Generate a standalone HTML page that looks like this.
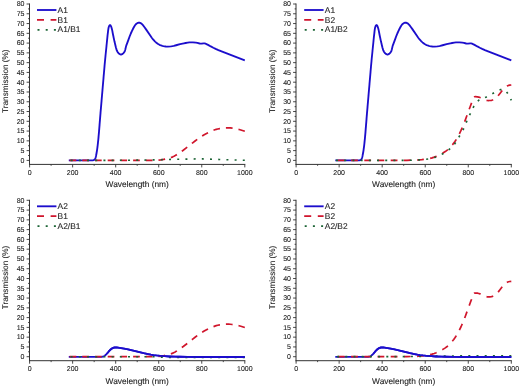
<!DOCTYPE html>
<html lang="en">
<head>
<meta charset="utf-8">
<title>Transmission spectra</title>
<style>
html,body{margin:0;padding:0;background:#fff;}
body{width:520px;height:386px;overflow:hidden;}
svg{display:block;text-rendering:geometricPrecision;}
text{stroke:#222;stroke-width:0.1px;font-family:"Liberation Sans",Arial,Helvetica,sans-serif;}
</style>
</head>
<body>
<svg width="520" height="386" viewBox="0 0 520 386">
<defs><filter id="soft" x="0" y="0" width="520" height="386" filterUnits="userSpaceOnUse"><feGaussianBlur stdDeviation="0.38"/></filter></defs>
<rect width="520" height="386" fill="#ffffff"/>
<g filter="url(#soft)">
<path d="M29.50 3.50 V164.90 M29.10 164.40 H245.30" stroke="#333" stroke-width="1" fill="none"/>
<path d="M29.60 160.40 h-3.0 M29.60 155.51 h-1.5 M29.60 150.62 h-3.0 M29.60 145.74 h-1.5 M29.60 140.85 h-3.0 M29.60 135.96 h-1.5 M29.60 131.07 h-3.0 M29.60 126.19 h-1.5 M29.60 121.30 h-3.0 M29.60 116.41 h-1.5 M29.60 111.53 h-3.0 M29.60 106.64 h-1.5 M29.60 101.75 h-3.0 M29.60 96.86 h-1.5 M29.60 91.98 h-3.0 M29.60 87.09 h-1.5 M29.60 82.20 h-3.0 M29.60 77.31 h-1.5 M29.60 72.42 h-3.0 M29.60 67.54 h-1.5 M29.60 62.65 h-3.0 M29.60 57.76 h-1.5 M29.60 52.88 h-3.0 M29.60 47.99 h-1.5 M29.60 43.10 h-3.0 M29.60 38.21 h-1.5 M29.60 33.33 h-3.0 M29.60 28.44 h-1.5 M29.60 23.55 h-3.0 M29.60 18.66 h-1.5 M29.60 13.78 h-3.0 M29.60 8.89 h-1.5 M29.60 4.00 h-3.0 M29.60 164.40 v3.0 M51.12 164.40 v1.4 M72.64 164.40 v3.0 M94.16 164.40 v1.4 M115.68 164.40 v3.0 M137.20 164.40 v1.4 M158.72 164.40 v3.0 M180.24 164.40 v1.4 M201.76 164.40 v3.0 M223.28 164.40 v1.4 M244.80 164.40 v3.0" stroke="#333" stroke-width="0.9" fill="none"/>
<g font-size="7" fill="#222">
<text x="24.50" y="162.70" text-anchor="end">0</text>
<text x="24.50" y="152.93" text-anchor="end">5</text>
<text x="24.50" y="143.15" text-anchor="end">10</text>
<text x="24.50" y="133.38" text-anchor="end">15</text>
<text x="24.50" y="123.60" text-anchor="end">20</text>
<text x="24.50" y="113.83" text-anchor="end">25</text>
<text x="24.50" y="104.05" text-anchor="end">30</text>
<text x="24.50" y="94.28" text-anchor="end">35</text>
<text x="24.50" y="84.50" text-anchor="end">40</text>
<text x="24.50" y="74.72" text-anchor="end">45</text>
<text x="24.50" y="64.95" text-anchor="end">50</text>
<text x="24.50" y="55.17" text-anchor="end">55</text>
<text x="24.50" y="45.40" text-anchor="end">60</text>
<text x="24.50" y="35.62" text-anchor="end">65</text>
<text x="24.50" y="25.85" text-anchor="end">70</text>
<text x="24.50" y="16.08" text-anchor="end">75</text>
<text x="24.50" y="6.30" text-anchor="end">80</text>
<text x="29.60" y="174.70" text-anchor="middle">0</text>
<text x="72.64" y="174.70" text-anchor="middle">200</text>
<text x="115.68" y="174.70" text-anchor="middle">400</text>
<text x="158.72" y="174.70" text-anchor="middle">600</text>
<text x="201.76" y="174.70" text-anchor="middle">800</text>
<text x="244.80" y="174.70" text-anchor="middle">1000</text>
</g>
<text x="137.20" y="187.30" font-size="8.35" text-anchor="middle" fill="#222">Wavelength (nm)</text>
<text transform="translate(8.00 81.20) rotate(-90)" font-size="8.2" text-anchor="middle" fill="#222">Transmission (%)</text>
<path d="M68.80 160.40 L89.60 160.40 L91.42 160.38 L92.62 160.31 L93.19 160.22 L93.74 160.07 L94.23 159.83 L94.52 159.62 L94.77 159.37 L95.07 158.95 L95.32 158.46 L95.58 157.73 L95.84 156.73 L96.15 155.26 L96.70 152.23 L97.09 149.86 L97.68 145.29 L98.34 139.13 L99.04 131.37 L100.45 113.61 L104.45 66.99 L105.19 59.02 L107.48 36.13 L108.15 30.33 L108.53 27.96 L108.79 26.98 L109.15 26.00 L109.52 25.36 L109.82 25.09 L110.02 25.03 L110.22 25.09 L110.42 25.26 L110.71 25.67 L111.23 26.83 L111.75 28.43 L112.22 30.38 L113.05 34.73 L114.49 41.59 L115.92 47.56 L116.62 49.89 L116.98 50.78 L117.31 51.45 L117.71 52.10 L118.20 52.75 L118.78 53.37 L119.43 53.92 L120.11 54.32 L120.61 54.50 L121.11 54.54 L121.60 54.44 L122.10 54.22 L122.59 53.89 L123.23 53.32 L123.81 52.67 L124.31 51.97 L124.71 51.27 L125.01 50.56 L125.24 49.82 L125.93 46.84 L126.44 45.10 L128.22 40.43 L129.98 35.53 L130.82 33.50 L131.90 31.13 L133.30 28.25 L134.26 26.49 L134.90 25.45 L135.37 24.80 L135.89 24.21 L136.48 23.69 L137.14 23.26 L137.86 22.92 L138.62 22.72 L139.18 22.69 L139.56 22.73 L140.12 22.89 L141.00 23.33 L141.93 24.05 L142.74 24.94 L144.35 27.01 L145.88 29.11 L150.25 35.57 L151.75 37.70 L153.09 39.44 L154.42 40.93 L155.13 41.63 L156.03 42.42 L158.11 44.00 L159.48 44.79 L161.14 45.49 L162.29 45.85 L163.46 46.13 L164.64 46.36 L165.83 46.51 L166.82 46.57 L167.82 46.56 L170.82 46.36 L172.40 46.14 L173.77 45.86 L176.10 45.26 L180.15 44.15 L183.85 43.29 L185.62 42.97 L187.80 42.64 L189.39 42.45 L190.79 42.34 L192.98 42.36 L195.77 42.64 L197.35 42.91 L199.69 43.50 L200.66 43.66 L201.63 43.64 L203.58 43.35 L204.54 43.41 L205.49 43.67 L206.98 44.31 L208.04 44.86 L210.83 46.44 L213.32 47.74 L215.66 48.86 L218.40 50.06 L222.86 51.85 L244.80 60.30" fill="none" stroke="#1c10cc" stroke-width="1.85" stroke-linejoin="round"/>
<path d="M68.80 160.40 L150.40 160.39 L154.20 160.29 L158.19 160.07 L160.78 159.82 L163.56 159.43 L165.33 159.11 L166.89 158.77 L168.45 158.36 L169.99 157.89 L171.49 157.36 L172.77 156.84 L174.02 156.25 L175.25 155.58 L176.62 154.74 L178.47 153.53 L181.13 151.72 L183.24 150.21 L187.87 146.70 L193.01 142.56 L195.06 140.96 L198.45 138.47 L201.09 136.66 L204.16 134.79 L207.51 132.99 L211.69 131.06 L213.36 130.35 L214.87 129.79 L216.20 129.37 L217.73 128.99 L219.68 128.60 L222.06 128.22 L223.86 127.99 L225.66 127.84 L227.25 127.79 L228.65 127.82 L230.24 127.94 L232.23 128.18 L235.00 128.63 L237.35 129.08 L239.10 129.49 L240.84 129.96 L244.80 131.25" fill="none" stroke="#d0152c" stroke-width="1.7" stroke-dasharray="6.7 6.0" stroke-linejoin="round" stroke-dashoffset="11.90"/>
<path d="M68.80 160.40 L118.00 160.31 L138.00 160.16 L153.40 159.93 L171.59 159.38 L184.59 159.10 L192.59 158.96 L198.99 158.91 L202.98 158.93 L207.18 159.03 L219.18 159.47 L244.80 160.30" fill="none" stroke="#1c6434" stroke-width="1.65" stroke-dasharray="2 6.2" stroke-dashoffset="6.36"/>
<path d="M37.00 10.00 H56.40" fill="none" stroke="#1c10cc" stroke-width="1.85" stroke-linejoin="round"/>
<text x="57.60" y="12.60" font-size="8.4" fill="#222">A1</text>
<path d="M37.00 19.90 H56.40" fill="none" stroke="#d0152c" stroke-width="1.7" stroke-dasharray="7 6.6" stroke-linejoin="round"/>
<text x="57.60" y="22.50" font-size="8.4" fill="#222">B1</text>
<path d="M37.50 29.80 H56.40" fill="none" stroke="#1c6434" stroke-width="1.65" stroke-dasharray="2 6.2"/>
<text x="57.60" y="32.40" font-size="8.4" fill="#222">A1/B1</text>
<path d="M296.00 3.50 V164.90 M295.60 164.40 H511.80" stroke="#333" stroke-width="1" fill="none"/>
<path d="M296.10 160.40 h-3.0 M296.10 155.51 h-1.5 M296.10 150.62 h-3.0 M296.10 145.74 h-1.5 M296.10 140.85 h-3.0 M296.10 135.96 h-1.5 M296.10 131.07 h-3.0 M296.10 126.19 h-1.5 M296.10 121.30 h-3.0 M296.10 116.41 h-1.5 M296.10 111.53 h-3.0 M296.10 106.64 h-1.5 M296.10 101.75 h-3.0 M296.10 96.86 h-1.5 M296.10 91.98 h-3.0 M296.10 87.09 h-1.5 M296.10 82.20 h-3.0 M296.10 77.31 h-1.5 M296.10 72.42 h-3.0 M296.10 67.54 h-1.5 M296.10 62.65 h-3.0 M296.10 57.76 h-1.5 M296.10 52.88 h-3.0 M296.10 47.99 h-1.5 M296.10 43.10 h-3.0 M296.10 38.21 h-1.5 M296.10 33.33 h-3.0 M296.10 28.44 h-1.5 M296.10 23.55 h-3.0 M296.10 18.66 h-1.5 M296.10 13.78 h-3.0 M296.10 8.89 h-1.5 M296.10 4.00 h-3.0 M296.10 164.40 v3.0 M317.62 164.40 v1.4 M339.14 164.40 v3.0 M360.66 164.40 v1.4 M382.18 164.40 v3.0 M403.70 164.40 v1.4 M425.22 164.40 v3.0 M446.74 164.40 v1.4 M468.26 164.40 v3.0 M489.78 164.40 v1.4 M511.30 164.40 v3.0" stroke="#333" stroke-width="0.9" fill="none"/>
<g font-size="7" fill="#222">
<text x="291.00" y="162.70" text-anchor="end">0</text>
<text x="291.00" y="152.93" text-anchor="end">5</text>
<text x="291.00" y="143.15" text-anchor="end">10</text>
<text x="291.00" y="133.38" text-anchor="end">15</text>
<text x="291.00" y="123.60" text-anchor="end">20</text>
<text x="291.00" y="113.83" text-anchor="end">25</text>
<text x="291.00" y="104.05" text-anchor="end">30</text>
<text x="291.00" y="94.28" text-anchor="end">35</text>
<text x="291.00" y="84.50" text-anchor="end">40</text>
<text x="291.00" y="74.72" text-anchor="end">45</text>
<text x="291.00" y="64.95" text-anchor="end">50</text>
<text x="291.00" y="55.17" text-anchor="end">55</text>
<text x="291.00" y="45.40" text-anchor="end">60</text>
<text x="291.00" y="35.62" text-anchor="end">65</text>
<text x="291.00" y="25.85" text-anchor="end">70</text>
<text x="291.00" y="16.08" text-anchor="end">75</text>
<text x="291.00" y="6.30" text-anchor="end">80</text>
<text x="296.10" y="174.70" text-anchor="middle">0</text>
<text x="339.14" y="174.70" text-anchor="middle">200</text>
<text x="382.18" y="174.70" text-anchor="middle">400</text>
<text x="425.22" y="174.70" text-anchor="middle">600</text>
<text x="468.26" y="174.70" text-anchor="middle">800</text>
<text x="511.30" y="174.70" text-anchor="middle">1000</text>
</g>
<text x="403.70" y="187.30" font-size="8.35" text-anchor="middle" fill="#222">Wavelength (nm)</text>
<text transform="translate(274.50 81.20) rotate(-90)" font-size="8.2" text-anchor="middle" fill="#222">Transmission (%)</text>
<path d="M335.30 160.40 L356.10 160.40 L357.92 160.38 L359.12 160.31 L359.69 160.22 L360.24 160.07 L360.73 159.83 L361.02 159.62 L361.27 159.37 L361.57 158.95 L361.82 158.46 L362.08 157.73 L362.34 156.73 L362.65 155.26 L363.20 152.23 L363.59 149.86 L364.18 145.29 L364.84 139.13 L365.54 131.37 L366.95 113.61 L370.95 66.99 L371.69 59.02 L373.98 36.13 L374.65 30.33 L375.03 27.96 L375.29 26.98 L375.65 26.00 L376.02 25.36 L376.32 25.09 L376.52 25.03 L376.72 25.09 L376.92 25.26 L377.21 25.67 L377.73 26.83 L378.25 28.43 L378.72 30.38 L379.55 34.73 L380.99 41.59 L382.42 47.56 L383.12 49.89 L383.48 50.78 L383.81 51.45 L384.21 52.10 L384.70 52.75 L385.28 53.37 L385.93 53.92 L386.61 54.32 L387.11 54.50 L387.61 54.54 L388.10 54.44 L388.60 54.22 L389.09 53.89 L389.73 53.32 L390.31 52.67 L390.81 51.97 L391.21 51.27 L391.51 50.56 L391.74 49.82 L392.43 46.84 L392.94 45.10 L394.72 40.43 L396.48 35.53 L397.32 33.50 L398.40 31.13 L399.80 28.25 L400.76 26.49 L401.40 25.45 L401.87 24.80 L402.39 24.21 L402.98 23.69 L403.64 23.26 L404.36 22.92 L405.12 22.72 L405.68 22.69 L406.06 22.73 L406.62 22.89 L407.50 23.33 L408.43 24.05 L409.24 24.94 L410.85 27.01 L412.38 29.11 L416.75 35.57 L418.25 37.70 L419.59 39.44 L420.92 40.93 L421.63 41.63 L422.53 42.42 L424.61 44.00 L425.98 44.79 L427.64 45.49 L428.79 45.85 L429.96 46.13 L431.14 46.36 L432.33 46.51 L433.32 46.57 L434.32 46.56 L437.32 46.36 L438.90 46.14 L440.27 45.86 L442.60 45.26 L446.65 44.15 L450.35 43.29 L452.12 42.97 L454.30 42.64 L455.89 42.45 L457.29 42.34 L459.48 42.36 L462.27 42.64 L463.85 42.91 L466.19 43.50 L467.16 43.66 L468.13 43.64 L470.08 43.35 L471.04 43.41 L471.99 43.67 L473.48 44.31 L474.54 44.86 L477.33 46.44 L479.82 47.74 L482.16 48.86 L484.90 50.06 L489.36 51.85 L511.30 60.30" fill="none" stroke="#1c10cc" stroke-width="1.85" stroke-linejoin="round"/>
<path d="M335.30 160.40 L398.30 160.40 L406.90 160.31 L414.90 160.12 L418.49 159.94 L421.88 159.68 L424.67 159.35 L427.43 158.92 L429.79 158.43 L432.11 157.82 L434.20 157.16 L436.25 156.37 L439.53 154.84 L442.91 153.06 L445.30 151.59 L447.18 150.17 L448.23 149.26 L449.40 148.15 L450.53 146.98 L451.62 145.77 L452.65 144.53 L453.75 143.11 L454.78 141.67 L455.77 140.19 L457.42 137.45 L459.14 134.25 L461.01 130.45 L462.81 126.45 L464.72 121.62 L470.34 106.18 L471.12 104.12 L472.19 101.49 L473.14 98.78 L473.58 97.77 L473.87 97.30 L474.08 97.05 L474.31 96.88 L474.56 96.77 L475.17 96.72 L477.43 96.90 L478.81 97.17 L479.96 97.51 L481.86 98.18 L482.79 98.60 L485.54 100.00 L486.47 100.35 L487.22 100.52 L488.19 100.59 L489.79 100.50 L491.38 100.31 L492.54 100.04 L493.68 99.59 L494.77 99.01 L495.74 98.38 L496.61 97.63 L497.53 96.57 L500.15 93.18 L502.94 89.43 L503.99 88.26 L505.01 87.36 L505.82 86.75 L506.50 86.30 L507.22 85.92 L507.76 85.70 L508.69 85.42 L509.66 85.20 L511.30 85.00" fill="none" stroke="#d0152c" stroke-width="1.7" stroke-dasharray="6.8 6.4" stroke-linejoin="round" stroke-dashoffset="10.61"/>
<path d="M335.30 160.40 L398.10 160.40 L405.90 160.32 L414.90 160.14 L421.29 159.85 L423.68 159.63 L426.26 159.30 L428.44 158.96 L430.60 158.53 L432.93 157.95 L434.83 157.38 L437.45 156.36 L441.09 154.67 L443.75 153.26 L446.12 151.78 L448.53 150.01 L450.84 148.03 L452.84 146.04 L453.76 145.01 L454.63 143.95 L455.66 142.50 L456.83 140.64 L462.00 131.77 L463.43 129.14 L464.69 126.43 L466.75 121.22 L467.70 119.01 L471.10 111.99 L472.87 108.13 L473.69 106.54 L474.84 104.71 L476.46 102.59 L477.85 101.07 L479.21 99.89 L480.31 99.16 L481.51 98.58 L482.81 98.10 L486.53 96.94 L487.47 96.57 L488.37 96.16 L489.94 95.29 L493.35 93.17 L497.05 91.05 L498.49 90.34 L499.60 89.92 L500.55 89.68 L502.17 89.42 L503.32 89.34 L503.84 89.41 L504.17 89.51 L504.80 89.88 L505.55 90.59 L506.52 91.82 L508.30 94.34 L509.44 96.19 L510.44 98.18 L511.30 100.40" fill="none" stroke="#1c6434" stroke-width="1.65" stroke-dasharray="2 6.2" stroke-dashoffset="7.47"/>
<path d="M304.20 10.00 H323.60" fill="none" stroke="#1c10cc" stroke-width="1.85" stroke-linejoin="round"/>
<text x="324.80" y="12.60" font-size="8.4" fill="#222">A1</text>
<path d="M304.20 19.90 H323.60" fill="none" stroke="#d0152c" stroke-width="1.7" stroke-dasharray="7 6.6" stroke-linejoin="round"/>
<text x="324.80" y="22.50" font-size="8.4" fill="#222">B2</text>
<path d="M304.70 29.80 H323.60" fill="none" stroke="#1c6434" stroke-width="1.65" stroke-dasharray="2 6.2"/>
<text x="324.80" y="32.40" font-size="8.4" fill="#222">A1/B2</text>
<path d="M29.50 199.80 V361.20 M29.10 360.70 H245.30" stroke="#333" stroke-width="1" fill="none"/>
<path d="M29.60 356.70 h-3.0 M29.60 351.81 h-1.5 M29.60 346.93 h-3.0 M29.60 342.04 h-1.5 M29.60 337.15 h-3.0 M29.60 332.26 h-1.5 M29.60 327.38 h-3.0 M29.60 322.49 h-1.5 M29.60 317.60 h-3.0 M29.60 312.71 h-1.5 M29.60 307.83 h-3.0 M29.60 302.94 h-1.5 M29.60 298.05 h-3.0 M29.60 293.16 h-1.5 M29.60 288.28 h-3.0 M29.60 283.39 h-1.5 M29.60 278.50 h-3.0 M29.60 273.61 h-1.5 M29.60 268.73 h-3.0 M29.60 263.84 h-1.5 M29.60 258.95 h-3.0 M29.60 254.06 h-1.5 M29.60 249.18 h-3.0 M29.60 244.29 h-1.5 M29.60 239.40 h-3.0 M29.60 234.51 h-1.5 M29.60 229.62 h-3.0 M29.60 224.74 h-1.5 M29.60 219.85 h-3.0 M29.60 214.96 h-1.5 M29.60 210.08 h-3.0 M29.60 205.19 h-1.5 M29.60 200.30 h-3.0 M29.60 360.70 v3.0 M51.12 360.70 v1.4 M72.64 360.70 v3.0 M94.16 360.70 v1.4 M115.68 360.70 v3.0 M137.20 360.70 v1.4 M158.72 360.70 v3.0 M180.24 360.70 v1.4 M201.76 360.70 v3.0 M223.28 360.70 v1.4 M244.80 360.70 v3.0" stroke="#333" stroke-width="0.9" fill="none"/>
<g font-size="7" fill="#222">
<text x="24.50" y="359.00" text-anchor="end">0</text>
<text x="24.50" y="349.23" text-anchor="end">5</text>
<text x="24.50" y="339.45" text-anchor="end">10</text>
<text x="24.50" y="329.68" text-anchor="end">15</text>
<text x="24.50" y="319.90" text-anchor="end">20</text>
<text x="24.50" y="310.13" text-anchor="end">25</text>
<text x="24.50" y="300.35" text-anchor="end">30</text>
<text x="24.50" y="290.58" text-anchor="end">35</text>
<text x="24.50" y="280.80" text-anchor="end">40</text>
<text x="24.50" y="271.03" text-anchor="end">45</text>
<text x="24.50" y="261.25" text-anchor="end">50</text>
<text x="24.50" y="251.48" text-anchor="end">55</text>
<text x="24.50" y="241.70" text-anchor="end">60</text>
<text x="24.50" y="231.93" text-anchor="end">65</text>
<text x="24.50" y="222.15" text-anchor="end">70</text>
<text x="24.50" y="212.38" text-anchor="end">75</text>
<text x="24.50" y="202.60" text-anchor="end">80</text>
<text x="29.60" y="371.00" text-anchor="middle">0</text>
<text x="72.64" y="371.00" text-anchor="middle">200</text>
<text x="115.68" y="371.00" text-anchor="middle">400</text>
<text x="158.72" y="371.00" text-anchor="middle">600</text>
<text x="201.76" y="371.00" text-anchor="middle">800</text>
<text x="244.80" y="371.00" text-anchor="middle">1000</text>
</g>
<text x="137.20" y="383.60" font-size="8.35" text-anchor="middle" fill="#222">Wavelength (nm)</text>
<text transform="translate(8.00 277.50) rotate(-90)" font-size="8.2" text-anchor="middle" fill="#222">Transmission (%)</text>
<path d="M68.80 356.80 L100.20 356.80 L101.82 356.76 L103.00 356.62 L103.72 356.40 L104.22 356.11 L104.85 355.62 L105.76 354.80 L107.32 353.25 L108.95 351.22 L109.75 350.33 L110.62 349.50 L111.57 348.75 L112.59 348.12 L113.50 347.77 L114.67 347.53 L115.86 347.44 L116.86 347.49 L118.05 347.65 L124.17 348.70 L128.09 349.46 L135.32 351.08 L143.66 353.18 L147.96 354.11 L150.91 354.69 L153.47 355.09 L156.45 355.45 L160.03 355.80 L164.82 356.19 L169.21 356.46 L175.00 356.69 L179.40 356.79 L187.40 356.88 L198.80 356.95 L244.80 356.95" fill="none" stroke="#1c10cc" stroke-width="1.85" stroke-linejoin="round"/>
<path d="M68.80 356.70 L150.40 356.69 L154.20 356.59 L158.19 356.37 L160.78 356.12 L163.56 355.73 L165.33 355.41 L166.89 355.07 L168.45 354.66 L169.99 354.19 L171.49 353.66 L172.77 353.14 L174.02 352.55 L175.25 351.88 L176.62 351.04 L178.47 349.83 L181.13 348.02 L183.24 346.51 L187.87 343.00 L193.01 338.86 L195.06 337.26 L198.45 334.77 L201.09 332.96 L204.16 331.09 L207.51 329.29 L211.69 327.36 L213.36 326.65 L214.87 326.09 L216.20 325.67 L217.73 325.29 L219.68 324.90 L222.06 324.52 L223.86 324.29 L225.66 324.14 L227.25 324.09 L228.65 324.12 L230.24 324.24 L232.23 324.48 L235.00 324.93 L237.35 325.38 L239.10 325.79 L240.84 326.26 L244.80 327.55" fill="none" stroke="#d0152c" stroke-width="1.7" stroke-dasharray="6.7 6.0" stroke-linejoin="round" stroke-dashoffset="11.90"/>
<path d="M68.80 356.70 L150.00 356.70 L153.00 356.74 L157.20 356.87 L163.79 357.23 L166.59 357.30 L200.57 357.38 L244.80 357.40" fill="none" stroke="#1c6434" stroke-width="1.65" stroke-dasharray="2 6.2" stroke-dashoffset="6.39"/>
<path d="M107.32 353.25 L108.95 351.22 L109.75 350.33 L110.62 349.50 L111.57 348.75 L112.59 348.12 L113.50 347.77 L114.67 347.53 L115.86 347.44 L116.86 347.49 L118.05 347.65 L124.17 348.70 L128.09 349.46 L135.32 351.08 L143.66 353.18 L147.96 354.11 L150.91 354.69 L153.47 355.09 L156.45 355.45 L160.03 355.80 L164.82 356.19 L169.21 356.46 L175.00 356.69 L179.40 356.79 L187.40 356.88 L198.80 356.95 L244.80 356.95" fill="none" stroke="#1c10cc" stroke-width="1.85" stroke-linejoin="round"/>
<path d="M37.00 206.30 H56.40" fill="none" stroke="#1c10cc" stroke-width="1.85" stroke-linejoin="round"/>
<text x="57.60" y="208.90" font-size="8.4" fill="#222">A2</text>
<path d="M37.00 216.20 H56.40" fill="none" stroke="#d0152c" stroke-width="1.7" stroke-dasharray="7 6.6" stroke-linejoin="round"/>
<text x="57.60" y="218.80" font-size="8.4" fill="#222">B1</text>
<path d="M37.50 226.10 H56.40" fill="none" stroke="#1c6434" stroke-width="1.65" stroke-dasharray="2 6.2"/>
<text x="57.60" y="228.70" font-size="8.4" fill="#222">A2/B1</text>
<path d="M296.00 199.80 V361.20 M295.60 360.70 H511.80" stroke="#333" stroke-width="1" fill="none"/>
<path d="M296.10 356.70 h-3.0 M296.10 351.81 h-1.5 M296.10 346.93 h-3.0 M296.10 342.04 h-1.5 M296.10 337.15 h-3.0 M296.10 332.26 h-1.5 M296.10 327.38 h-3.0 M296.10 322.49 h-1.5 M296.10 317.60 h-3.0 M296.10 312.71 h-1.5 M296.10 307.83 h-3.0 M296.10 302.94 h-1.5 M296.10 298.05 h-3.0 M296.10 293.16 h-1.5 M296.10 288.28 h-3.0 M296.10 283.39 h-1.5 M296.10 278.50 h-3.0 M296.10 273.61 h-1.5 M296.10 268.73 h-3.0 M296.10 263.84 h-1.5 M296.10 258.95 h-3.0 M296.10 254.06 h-1.5 M296.10 249.18 h-3.0 M296.10 244.29 h-1.5 M296.10 239.40 h-3.0 M296.10 234.51 h-1.5 M296.10 229.62 h-3.0 M296.10 224.74 h-1.5 M296.10 219.85 h-3.0 M296.10 214.96 h-1.5 M296.10 210.08 h-3.0 M296.10 205.19 h-1.5 M296.10 200.30 h-3.0 M296.10 360.70 v3.0 M317.62 360.70 v1.4 M339.14 360.70 v3.0 M360.66 360.70 v1.4 M382.18 360.70 v3.0 M403.70 360.70 v1.4 M425.22 360.70 v3.0 M446.74 360.70 v1.4 M468.26 360.70 v3.0 M489.78 360.70 v1.4 M511.30 360.70 v3.0" stroke="#333" stroke-width="0.9" fill="none"/>
<g font-size="7" fill="#222">
<text x="291.00" y="359.00" text-anchor="end">0</text>
<text x="291.00" y="349.23" text-anchor="end">5</text>
<text x="291.00" y="339.45" text-anchor="end">10</text>
<text x="291.00" y="329.68" text-anchor="end">15</text>
<text x="291.00" y="319.90" text-anchor="end">20</text>
<text x="291.00" y="310.13" text-anchor="end">25</text>
<text x="291.00" y="300.35" text-anchor="end">30</text>
<text x="291.00" y="290.58" text-anchor="end">35</text>
<text x="291.00" y="280.80" text-anchor="end">40</text>
<text x="291.00" y="271.03" text-anchor="end">45</text>
<text x="291.00" y="261.25" text-anchor="end">50</text>
<text x="291.00" y="251.48" text-anchor="end">55</text>
<text x="291.00" y="241.70" text-anchor="end">60</text>
<text x="291.00" y="231.93" text-anchor="end">65</text>
<text x="291.00" y="222.15" text-anchor="end">70</text>
<text x="291.00" y="212.38" text-anchor="end">75</text>
<text x="291.00" y="202.60" text-anchor="end">80</text>
<text x="296.10" y="371.00" text-anchor="middle">0</text>
<text x="339.14" y="371.00" text-anchor="middle">200</text>
<text x="382.18" y="371.00" text-anchor="middle">400</text>
<text x="425.22" y="371.00" text-anchor="middle">600</text>
<text x="468.26" y="371.00" text-anchor="middle">800</text>
<text x="511.30" y="371.00" text-anchor="middle">1000</text>
</g>
<text x="403.70" y="383.60" font-size="8.35" text-anchor="middle" fill="#222">Wavelength (nm)</text>
<text transform="translate(274.50 277.50) rotate(-90)" font-size="8.2" text-anchor="middle" fill="#222">Transmission (%)</text>
<path d="M335.30 356.80 L366.70 356.80 L368.32 356.76 L369.50 356.62 L370.22 356.40 L370.72 356.11 L371.35 355.62 L372.26 354.80 L373.82 353.25 L375.45 351.22 L376.25 350.33 L377.12 349.50 L378.07 348.75 L379.09 348.12 L380.00 347.77 L381.17 347.53 L382.36 347.44 L383.36 347.49 L384.55 347.65 L390.67 348.70 L394.59 349.46 L401.82 351.08 L410.16 353.18 L414.46 354.11 L417.41 354.69 L419.97 355.09 L422.95 355.45 L426.53 355.80 L431.32 356.19 L435.71 356.46 L441.50 356.69 L445.90 356.79 L453.90 356.88 L465.30 356.95 L511.30 356.95" fill="none" stroke="#1c10cc" stroke-width="1.85" stroke-linejoin="round"/>
<path d="M335.30 356.70 L398.30 356.70 L406.90 356.61 L414.90 356.42 L418.49 356.24 L421.88 355.98 L424.67 355.65 L427.43 355.22 L429.79 354.73 L432.11 354.12 L434.20 353.46 L436.25 352.67 L439.53 351.14 L442.91 349.36 L445.30 347.89 L447.18 346.47 L448.23 345.56 L449.40 344.45 L450.53 343.28 L451.62 342.07 L452.65 340.83 L453.75 339.41 L454.78 337.97 L455.77 336.49 L457.42 333.75 L459.14 330.55 L461.01 326.75 L462.81 322.75 L464.72 317.92 L470.34 302.48 L471.12 300.42 L472.19 297.79 L473.14 295.08 L473.58 294.07 L473.87 293.60 L474.08 293.35 L474.31 293.18 L474.56 293.07 L475.17 293.02 L477.43 293.20 L478.81 293.47 L479.96 293.81 L481.86 294.48 L482.79 294.90 L485.54 296.30 L486.47 296.65 L487.22 296.82 L488.19 296.89 L489.79 296.80 L491.38 296.61 L492.54 296.34 L493.68 295.89 L494.77 295.31 L495.74 294.68 L496.61 293.93 L497.53 292.87 L500.15 289.48 L502.94 285.73 L503.99 284.56 L505.01 283.66 L505.82 283.05 L506.50 282.60 L507.22 282.22 L507.76 282.00 L508.69 281.72 L509.66 281.50 L511.30 281.30" fill="none" stroke="#d0152c" stroke-width="1.7" stroke-dasharray="6.8 6.4" stroke-linejoin="round" stroke-dashoffset="10.61"/>
<path d="M335.30 356.70 L378.51 356.65 L415.90 356.50 L419.90 356.42 L428.49 356.06 L432.29 356.00 L468.08 355.92 L511.30 355.90" fill="none" stroke="#1c6434" stroke-width="1.65" stroke-dasharray="2 6.2" stroke-dashoffset="6.39"/>
<path d="M373.82 353.25 L375.45 351.22 L376.25 350.33 L377.12 349.50 L378.07 348.75 L379.09 348.12 L380.00 347.77 L381.17 347.53 L382.36 347.44 L383.36 347.49 L384.55 347.65 L390.67 348.70 L394.59 349.46 L401.82 351.08 L410.16 353.18 L414.46 354.11 L417.41 354.69 L419.97 355.09 L422.95 355.45 L426.53 355.80 L431.32 356.19 L435.71 356.46 L441.50 356.69 L445.90 356.79 L453.90 356.88 L465.30 356.95 L511.30 356.95" fill="none" stroke="#1c10cc" stroke-width="1.85" stroke-linejoin="round"/>
<path d="M304.20 206.30 H323.60" fill="none" stroke="#1c10cc" stroke-width="1.85" stroke-linejoin="round"/>
<text x="324.80" y="208.90" font-size="8.4" fill="#222">A2</text>
<path d="M304.20 216.20 H323.60" fill="none" stroke="#d0152c" stroke-width="1.7" stroke-dasharray="7 6.6" stroke-linejoin="round"/>
<text x="324.80" y="218.80" font-size="8.4" fill="#222">B2</text>
<path d="M304.70 226.10 H323.60" fill="none" stroke="#1c6434" stroke-width="1.65" stroke-dasharray="2 6.2"/>
<text x="324.80" y="228.70" font-size="8.4" fill="#222">A2/B2</text>
</g>
</svg>
</body>
</html>
